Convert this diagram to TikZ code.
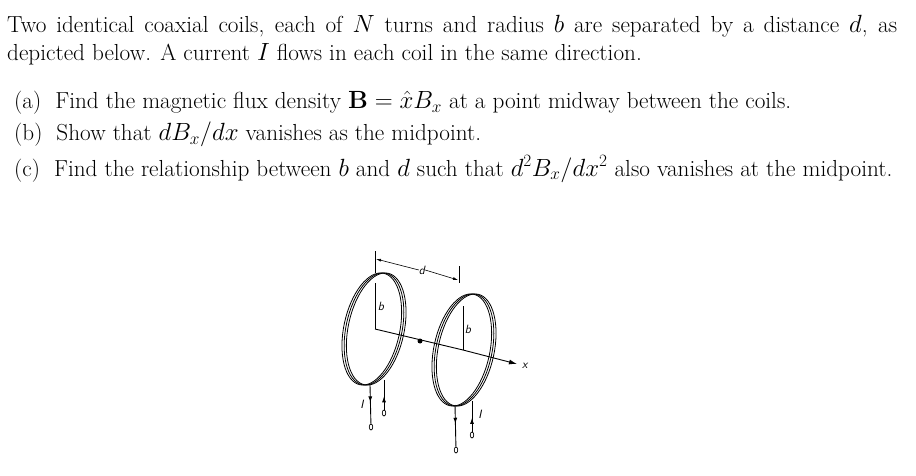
\documentclass[tikz,border=0pt]{standalone}
\usepackage{amsmath,amssymb}
\usetikzlibrary{arrows.meta,decorations.markings,shapes.geometric}
\begin{document}
\begin{tikzpicture}[x=1pt,y=-1pt,
  txt/.style={anchor=base west,inner sep=0pt,font=\fontsize{23.2}{28}\selectfont},
  lab/.style={inner sep=0pt,font=\fontsize{12}{14}\sffamily\itshape},
  wire/.style={line width=0.9pt},
  term/.style={draw,line width=0.7pt,ellipse,minimum width=3.5pt,minimum height=6pt,inner sep=0pt},
  arrd/.style={postaction={decorate},decoration={markings,mark=at position 0.45 with {\arrow{Latex[length=6pt,width=4pt]}}}}]
\useasboundingbox (0,0) rectangle (916,476);
\node[txt] (l1) at (7,33) {\makebox[890pt][s]{Two identical coaxial coils, each of $N$ turns and radius $b$ are separated by a distance $d$, as}};
\node[txt] (l2) at (7,61) {depicted below. A current $I$ flows in each coil in the same direction.};
\node[txt] (la) at (14,109) {(a)\ \ Find the magnetic flux density $\mathbf{B}=\hat{x}B_x$ at a point midway between the coils.};
\node[txt] (lb) at (14,141) {(b)\ \ Show that $dB_x/dx$ vanishes as the midpoint.};
\node[txt] (lc) at (14,176) {(c)\ \ Find the relationship between $b$ and $d$ such that $d^2B_x/dx^2$ also vanishes at the midpoint.};
% coils
\foreach \c/\cx/\cy in {L/374/329,R/464/350}{
  \foreach \o in {-2.2,0,2.2}
    \draw[line width=0.8pt,rotate around={-12:(\cx+\o,\cy)}] (\cx+\o,\cy) ellipse (28 and 57);
}
\coordinate (cL) at (375,329);
\coordinate (cR) at (463,350);
\coordinate (mid) at (420,341);
\coordinate (xe) at (517,364);
\draw[wire] (cL) -- (cR);
\draw[wire,-{Latex[length=8pt,width=5pt]}] (cR) -- (xe);
\node[lab,anchor=west] (xl) at (522,366) {x};
\fill (mid) circle (2.5);
\draw[line width=0.7pt] (cL) -- (375,283);
\draw[line width=0.7pt] (cR) -- (463,306);
\node[lab] (bL) at (381,306) {b};
\node[lab] (bR) at (468,329) {b};
% dimension
\coordinate (t1a) at (375,251); \coordinate (t1b) at (375,273);
\coordinate (t2a) at (459,266); \coordinate (t2b) at (459,283);
\draw[line width=0.6pt] (t1a) -- (t1b) (t2a) -- (t2b);
\node[lab] (dl) at (422,270) {d};
\coordinate (d1) at (376,259); \coordinate (d2) at (458,280);
\draw[line width=0.6pt,-{Latex[length=5pt,width=3pt]}] (dl.west) -- (d1);
\draw[line width=0.6pt,-{Latex[length=5pt,width=3pt]}] (dl.east) -- (d2);
% leads
\node[term] (tL1) at (371,427) {};
\node[term] (tL2) at (384,413) {};
\node[term] (tR1) at (456,450) {};
\node[term] (tR2) at (472,435) {};
\coordinate (sL1) at (370,385); \coordinate (sL2) at (384,380);
\coordinate (sR1) at (455,405); \coordinate (sR2) at (472,401);
\draw[wire,arrd] (sL1) -- (tL1);
\draw[wire,arrd] (tL2) -- (sL2);
\draw[wire,arrd] (sR1) -- (tR1);
\draw[wire,arrd] (tR2) -- (sR2);
\node[lab] (IL) at (362,404) {I};
\node[lab] (IR) at (480,414) {I};
\end{tikzpicture}
\end{document}
